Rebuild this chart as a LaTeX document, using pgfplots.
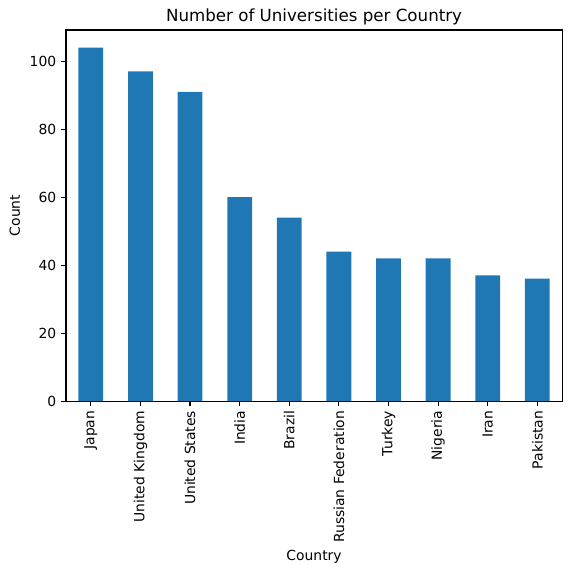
\documentclass[border=0pt]{standalone}
\usepackage{pgfplots}
\pgfplotsset{compat=1.18}
\usepackage{fontspec}
\setmainfont{DejaVu Sans}
\definecolor{mplblue}{HTML}{1F77B4}
\begin{document}
\begin{tikzpicture}
\begin{axis}[
  scale only axis,
  width=357pt, height=267pt,
  xmin=-0.5, xmax=9.5, ymin=0, ymax=109.2,
  axis line style={line width=0.8pt},
  tick style={line width=0.8pt, black},
  tick align=outside, tick pos=left,
  major tick length=3.5pt,
  xtick={0,...,9},
  xticklabels={Japan,United Kingdom,United States,India,Brazil,Russian Federation,Turkey,Nigeria,Iran,Pakistan},
  xticklabel style={rotate=90, anchor=east, font=\fontsize{10}{12}\selectfont},
  yticklabel style={font=\fontsize{10}{12}\selectfont},
  ytick={0,20,40,60,80,100},
  /pgf/number format/assume math mode=true,
  xlabel={Country}, ylabel={Count},
  xlabel style={yshift=1.5pt},
  label style={font=\fontsize{10}{12}\selectfont},
  title={Number of Universities per Country},
  title style={font=\fontsize{12}{14}\selectfont, yshift=-6pt},
  ybar, bar width=0.5,
]
\addplot[fill=mplblue, draw=none] coordinates {
(0,104) (1,97) (2,91) (3,60) (4,54) (5,44) (6,42) (7,42) (8,37) (9,36)};
\coordinate (bl) at (rel axis cs:0,0);
\coordinate (tr) at (rel axis cs:1,1);
\end{axis}
\pgfresetboundingbox
\path ([shift={(-47.5pt,-123pt)}]bl) rectangle ([shift={(6.5pt,21.6pt)}]tr);
\end{tikzpicture}
\end{document}
